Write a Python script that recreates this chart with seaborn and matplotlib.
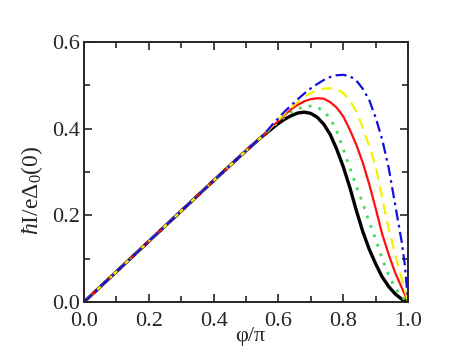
import numpy as np
import pandas as pd
import matplotlib
matplotlib.use("Agg")
import matplotlib.pyplot as plt
import seaborn as sns
from matplotlib.ticker import MultipleLocator

sns.set_style("ticks")
plt.rcParams['font.family'] = ['Liberation Serif', 'DejaVu Serif']
plt.rcParams['mathtext.fontset'] = 'custom'
plt.rcParams['mathtext.rm'] = 'Liberation Serif'
plt.rcParams['mathtext.it'] = 'Liberation Serif:italic'

# ---- data ----
x_lin = [0.0, 0.1, 0.2, 0.3, 0.4, 0.5, 0.55]
y_lin = [0.0, 0.07, 0.14, 0.21, 0.28, 0.349, 0.382]

x_black = [0.58, 0.60, 0.62, 0.64, 0.66, 0.68, 0.70, 0.72, 0.74, 0.76, 0.78, 0.80,
           0.82, 0.84, 0.86, 0.88, 0.90, 0.92, 0.94, 0.96, 0.98, 1.00]
y_black = [0.400, 0.412, 0.422, 0.430, 0.436, 0.438, 0.435, 0.426, 0.410, 0.386, 0.352, 0.312,
           0.265, 0.212, 0.163, 0.122, 0.088, 0.058, 0.036, 0.019, 0.007, 0.0]

x_green = [0.58, 0.60, 0.62, 0.64, 0.66, 0.68, 0.70, 0.72, 0.74, 0.76, 0.78, 0.80,
           0.82, 0.84, 0.86, 0.88, 0.90, 0.92, 0.94, 0.96, 0.98, 1.00]
y_green = [0.403, 0.415, 0.428, 0.439, 0.446, 0.450, 0.452, 0.449, 0.440, 0.423, 0.394, 0.353,
           0.310, 0.268, 0.228, 0.185, 0.145, 0.100, 0.062, 0.033, 0.012, 0.0]

x_red = [0.58, 0.60, 0.62, 0.64, 0.66, 0.68, 0.70, 0.72, 0.74, 0.76, 0.78, 0.80,
         0.82, 0.84, 0.86, 0.88, 0.90, 0.92, 0.94, 0.96, 0.98, 1.00]
y_red = [0.404, 0.418, 0.432, 0.445, 0.455, 0.463, 0.468, 0.470, 0.469, 0.461, 0.448, 0.428,
         0.398, 0.363, 0.322, 0.272, 0.216, 0.157, 0.110, 0.068, 0.034, 0.0]

x_yellow = [0.58, 0.60, 0.62, 0.64, 0.66, 0.68, 0.70, 0.72, 0.74, 0.76, 0.78, 0.80,
            0.82, 0.84, 0.86, 0.88, 0.90, 0.92, 0.94, 0.96, 0.98, 1.00]
y_yellow = [0.405, 0.420, 0.435, 0.449, 0.462, 0.473, 0.482, 0.489, 0.492, 0.493, 0.491, 0.482,
            0.465, 0.440, 0.403, 0.360, 0.314, 0.240, 0.170, 0.110, 0.055, 0.0]

x_blue = [0.58, 0.60, 0.62, 0.64, 0.66, 0.68, 0.70, 0.72, 0.74, 0.76, 0.78, 0.80,
          0.82, 0.84, 0.86, 0.88, 0.90, 0.92, 0.94, 0.96, 0.98, 0.99, 1.00]
y_blue = [0.408, 0.424, 0.440, 0.454, 0.468, 0.481, 0.493, 0.503, 0.512, 0.519, 0.523, 0.524,
          0.521, 0.511, 0.492, 0.466, 0.425, 0.375, 0.310, 0.225, 0.140, 0.085, 0.0]

x_ticks = [0.0, 0.2, 0.4, 0.6, 0.8, 1.0]
y_ticks = [0.0, 0.2, 0.4, 0.6]

series = [
    ("black", x_black, y_black),
    ("green", x_green, y_green),
    ("red", x_red, y_red),
    ("yellow", x_yellow, y_yellow),
    ("blue", x_blue, y_blue),
]
styles = {
    "black": dict(color="black", lw=2.4, ls="-"),
    "green": dict(color="#3ddc5a", lw=2.0, ls=(0, (1, 2.6))),
    "red": dict(color="#ff1010", lw=1.6, ls="-"),
    "yellow": dict(color="#f5f000", lw=1.6, ls=(0, (5, 3))),
    "blue": dict(color="#1010e0", lw=1.6, ls=(0, (5, 2, 1.2, 2))),
}

fig = plt.figure(figsize=(4.74, 3.64), dpi=100)
ax = fig.add_axes([0.177, 0.170, 0.684, 0.715])

for name, xs, ys in series:
    df = pd.DataFrame({"x": list(x_lin) + list(xs), "y": list(y_lin) + list(ys)})
    st = styles[name]
    sns.lineplot(data=df, x="x", y="y", ax=ax, sort=False, estimator=None,
                 color=st["color"], linewidth=st["lw"], linestyle=st["ls"])

ax.set_xlim(0, 1.0)
ax.set_ylim(0, 0.6)
ax.set_xticks(x_ticks)
ax.set_yticks(y_ticks)
ax.set_xticklabels([f"{v:.1f}" for v in x_ticks])
ax.set_yticklabels([f"{v:.1f}" for v in y_ticks])
ax.xaxis.set_minor_locator(MultipleLocator(0.1))
ax.yaxis.set_minor_locator(MultipleLocator(0.1))
ax.tick_params(which="both", direction="in", top=True, right=True, width=1.2)
ax.tick_params(which="major", length=6, labelsize=16)
ax.tick_params(axis="x", which="major", pad=7)
ax.tick_params(axis="y", which="major", pad=3)
ax.tick_params(which="minor", length=4)
for s in ax.spines.values():
    s.set_linewidth(1.4)

ax.set_xlabel("φ/π", fontsize=16)
ax.set_ylabel(r"$\hbar$I/eΔ$_0$(0)", fontsize=17)
ax.xaxis.set_label_coords(0.512, -0.097)
ax.yaxis.set_label_coords(-0.12, 0.43)

fig.savefig("out.png", dpi=100)
